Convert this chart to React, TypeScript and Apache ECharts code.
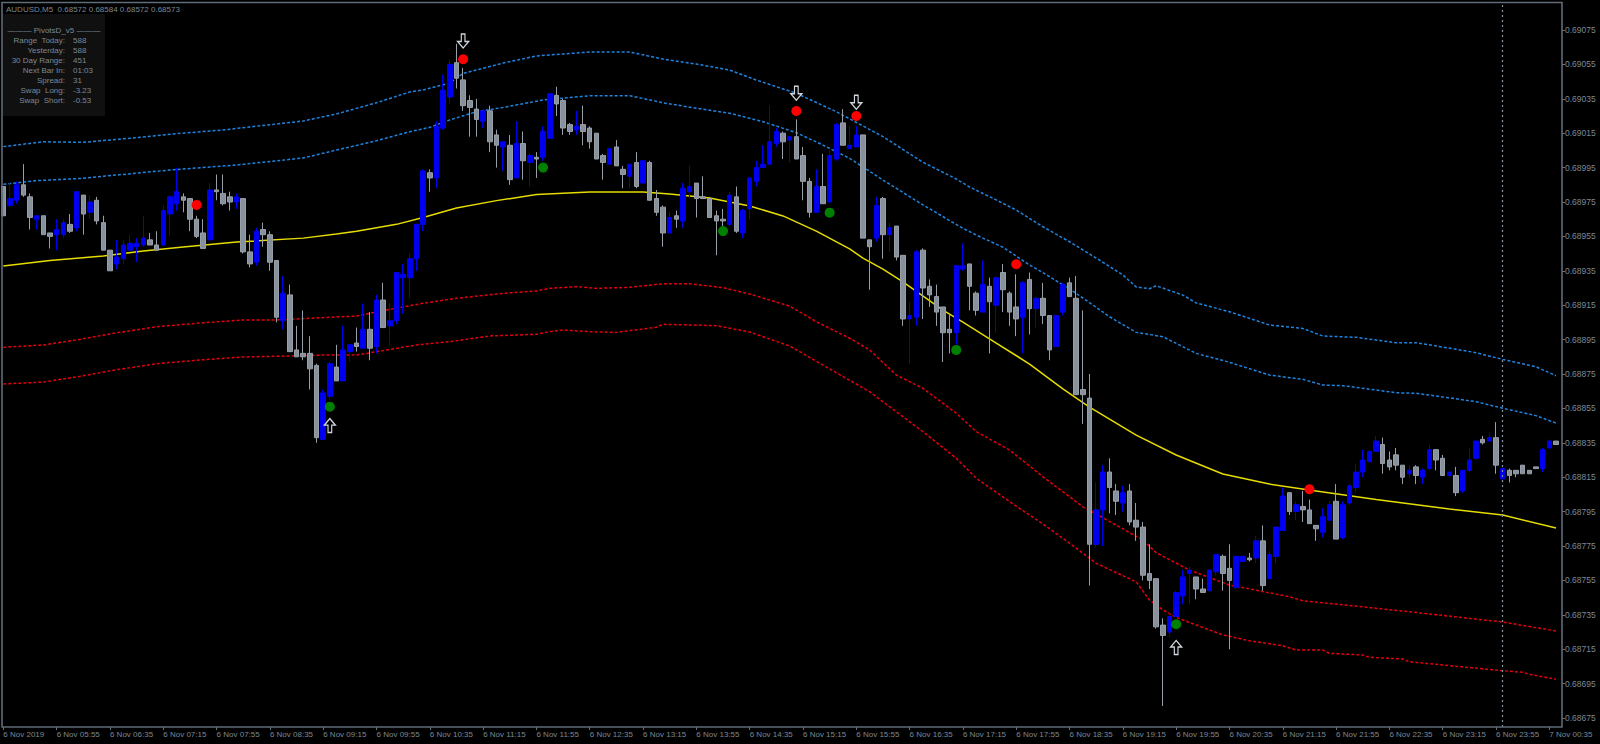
import React, { useEffect, useRef } from "react";
import * as echarts from "echarts";

// Candles as [open, close, low, high]
const barsMorning = [
  [.68984,.68967,.68967,.68984],[.68973,.68977,.68972,.68986],[.68976,.68985,.68974,.68987],[.68985,.68979,.68978,.68997],[.68978,.68966,.68959,.68980],
  [.68965,.68967,.68959,.68967],[.68967,.68956,.68956,.68967],[.68957,.68955,.68948,.68957],[.68956,.68959,.68947,.68965],[.68956,.68963,.68954,.68965],
  [.68962,.68958,.68957,.68968],[.68960,.68981,.68958,.68981],[.68979,.68968,.68956,.68979],[.68969,.68975,.68965,.68979],[.68976,.68964,.68962,.68978],
  [.68963,.68947,.68947,.68967],[.68947,.68935,.68935,.68947],[.68939,.68943,.68936,.68953],[.68942,.68950,.68939,.68953],[.68947,.68951,.68946,.68956],
  [.68949,.68951,.68940,.68954],[.68950,.68954,.68949,.68967],[.68953,.68950,.68950,.68957],[.68950,.68947,.68947,.68958],[.68950,.68970,.68950,.68973],
  [.68968,.68978,.68955,.68979],[.68974,.68981,.68970,.68995],[.68978,.68976,.68969,.68980],[.68977,.68965,.68958,.68977],[.68965,.68955,.68954,.68967],
  [.68957,.68948,.68948,.68965],[.68953,.68982,.68953,.68986],[.68982,.68981,.68976,.68991],[.68980,.68974,.68973,.68991],[.68978,.68975,.68970,.68981],
  [.68975,.68978,.68971,.68980],[.68977,.68946,.68945,.68977],[.68946,.68939,.68937,.68956],[.68940,.68958,.68938,.68960],[.68959,.68956,.68949,.68963],
];
const barsRally = [
  [.68956,.68940,.68935,.68958],[.68941,.68908,.68905,.68941],[.68906,.68922,.68901,.68932],[.68921,.68888,.68888,.68927],[.68889,.68885,.68885,.68903],
  [.68887,.68885,.68883,.68912],[.68887,.68878,.68866,.68897],[.68880,.68838,.68835,.68881],[.68837,.68864,.68837,.68866],[.68862,.68881,.68860,.68882],
  [.68879,.68871,.68871,.68892],[.68871,.68889,.68871,.68903],[.68888,.68892,.68882,.68892],[.68893,.68891,.68888,.68902],[.68890,.68901,.68890,.68916],
  [.68901,.68890,.68883,.68911],[.68891,.68918,.68887,.68921],[.68918,.68902,.68902,.68928],[.68903,.68906,.68892,.68916],[.68906,.68934,.68904,.68934],
  [.68931,.68933,.68910,.68939],[.68931,.68942,.68919,.68945],[.68942,.68962,.68935,.68962],[.68962,.68993,.68958,.68994],[.68992,.68989,.68981,.68994],
  [.68989,.69019,.68983,.69022],[.69018,.69040,.69017,.69049],[.69036,.69055,.69032,.69058],[.69056,.69047,.69041,.69067],[.69046,.69031,.69028,.69053],
];
const barsMidday = [
  [.69034,.69030,.69013,.69037],[.69029,.69023,.69013,.69035],[.69022,.69028,.69018,.69028],[.69028,.69010,.69004,.69031],[.69014,.69008,.68995,.69017],
  [.69007,.69010,.68993,.69010],[.69008,.68988,.68985,.69014],[.68989,.69009,.68989,.69022],[.69009,.68999,.68988,.69016],[.68998,.69002,.68984,.69003],
  [.69001,.69000,.68989,.69004],[.69001,.69016,.68999,.69019],[.69012,.69038,.69012,.69038],[.69037,.69032,.69025,.69042],[.69034,.69018,.69014,.69035],
  [.69020,.69016,.69014,.69021],[.69017,.69019,.69014,.69028],[.69020,.69016,.69008,.69031],[.69018,.69010,.69006,.69019],[.69015,.69000,.69000,.69015],
  [.69002,.68998,.68988,.69003],[.68997,.69006,.68997,.69006],[.69007,.68996,.68996,.69011],[.68994,.68991,.68983,.68996],[.68990,.68997,.68983,.68997],
  [.68998,.68984,.68983,.69004],[.68986,.68999,.68986,.68999],[.68998,.68976,.68976,.68999],[.68977,.68969,.68967,.68982],[.68972,.68957,.68949,.68973],
  [.68957,.68966,.68957,.68969],[.68967,.68965,.68960,.68970],[.68964,.68983,.68960,.68986],[.68981,.68984,.68977,.68996],[.68986,.68977,.68966,.68986],
  [.68978,.68977,.68977,.68990],[.68977,.68966,.68966,.68978],[.68967,.68964,.68944,.68970],[.68965,.68964,.68961,.68971],[.68962,.68979,.68961,.68981],
  [.68978,.68958,.68957,.68984],[.68957,.68970,.68954,.68971],[.68971,.68989,.68965,.68989],[.68987,.68995,.68984,.68999],[.68995,.68997,.68995,.69008],
  [.68997,.69010,.68997,.69031],[.69009,.69016,.69007,.69018],[.69015,.69010,.69000,.69016],[.69011,.69013,.68998,.69013],[.69013,.69000,.69000,.69023],
  [.69002,.68987,.68976,.69007],[.68987,.68969,.68966,.68989],[.68969,.68984,.68969,.68994],[.68984,.68974,.68974,.69003],[.68975,.69002,.68975,.69005],
  [.69000,.69020,.68999,.69021],[.69021,.69008,.69008,.69029],[.69006,.69008,.69006,.69019],[.69007,.69014,.69007,.69019],
];
const barsAfternoon = [
  [.69014,.68954,.68954,.69014],[.68953,.68949,.68924,.68953],[.68954,.68973,.68952,.68978],[.68977,.68956,.68942,.68978],[.68956,.68960,.68946,.68963],
  [.68961,.68943,.68941,.68961],[.68944,.68907,.68903,.68944],[.68907,.68909,.68881,.68917],[.68908,.68946,.68903,.68947],[.68947,.68925,.68907,.68948],
  [.68926,.68921,.68914,.68930],[.68920,.68911,.68903,.68927],[.68914,.68899,.68882,.68914],[.68901,.68899,.68887,.68910],[.68899,.68938,.68892,.68938],
  [.68936,.68938,.68935,.68951],[.68939,.68926,.68912,.68939],[.68922,.68912,.68909,.68923],[.68911,.68927,.68911,.68941],[.68926,.68917,.68887,.68931],
  [.68915,.68931,.68899,.68932],[.68934,.68924,.68911,.68939],[.68922,.68911,.68903,.68923],[.68914,.68907,.68897,.68933],[.68908,.68928,.68887,.68929],
  [.68930,.68913,.68898,.68934],[.68913,.68919,.68902,.68920],[.68919,.68909,.68904,.68928],[.68909,.68889,.68883,.68909],[.68891,.68909,.68891,.68909],
  [.68911,.68927,.68909,.68928],[.68928,.68920,.68920,.68931],[.68919,.68863,.68863,.68932],[.68866,.68863,.68846,.68912],
];
const barsSelloff = [
  [.68861,.68776,.68752,.68875],[.68776,.68796,.68774,.68812],[.68796,.68818,.68775,.68822],[.68818,.68809,.68794,.68826],[.68807,.68801,.68793,.68811],
  [.68800,.68806,.68795,.68810],[.68807,.68789,.68787,.68811],[.68790,.68786,.68778,.68800],[.68786,.68758,.68755,.68789],[.68759,.68755,.68750,.68776],
  [.68756,.68728,.68727,.68756],[.68729,.68723,.68682,.68733],[.68725,.68734,.68722,.68736],[.68734,.68748,.68734,.68749],[.68746,.68757,.68741,.68761],
  [.68759,.68761,.68741,.68763],[.68757,.68750,.68744,.68757],[.68750,.68748,.68748,.68756],[.68749,.68761,.68748,.68761],[.68760,.68770,.68758,.68770],
  [.68769,.68759,.68749,.68770],[.68762,.68755,.68715,.68776],[.68751,.68769,.68750,.68769],[.68766,.68769,.68766,.68769],[.68768,.68767,.68766,.68771],
  [.68768,.68778,.68765,.68781],[.68778,.68752,.68749,.68787],[.68756,.68770,.68756,.68772],[.68769,.68786,.68765,.68786],
];
const barsEvening = [
  [.68784,.68804,.68784,.68809],[.68806,.68795,.68793,.68806],[.68795,.68799,.68790,.68801],[.68798,.68796,.68789,.68807],[.68796,.68788,.68788,.68802],
  [.68787,.68785,.68778,.68787],[.68783,.68792,.68780,.68797],[.68790,.68799,.68790,.68801],[.68801,.68779,.68779,.68811],[.68780,.68799,.68779,.68801],
  [.68800,.68810,.68799,.68811],[.68809,.68818,.68806,.68823],[.68818,.68825,.68815,.68831],[.68824,.68830,.68824,.68830],[.68830,.68836,.68830,.68839],
  [.68834,.68823,.68817,.68838],[.68825,.68821,.68819,.68830],[.68828,.68822,.68819,.68832],[.68822,.68815,.68811,.68822],[.68817,.68819,.68815,.68822],
  [.68821,.68816,.68811,.68822],[.68815,.68819,.68811,.68820],[.68820,.68831,.68819,.68834],[.68831,.68825,.68819,.68831],[.68826,.68816,.68816,.68828],
  [.68816,.68818,.68815,.68818],[.68816,.68806,.68804,.68821],[.68807,.68819,.68806,.68819],[.68819,.68825,.68818,.68832],[.68826,.68836,.68825,.68836],
  [.68837,.68835,.68834,.68839],[.68836,.68838,.68836,.68841],[.68838,.68822,.68817,.68847],[.68814,.68820,.68814,.68820],[.68819,.68816,.68812,.68820],
  [.68819,.68817,.68815,.68819],[.68822,.68817,.68817,.68822],[.68819,.68817,.68817,.68819],[.68821,.68820,.68820,.68821],[.68820,.68831,.68818,.68832],
  [.68832,.68836,.68832,.68837],[.68836,.68834,.68834,.68836],
];

// Bands as [bar index, price]
const midLine = [
  [0,.689378],[7,.68941],[15,.689436],[21,.689465],[27,.689488],[35,.689517],[45,.68954],[50,.689564],[53,.68958],[59,.68962],[63,.68966],[68,.689715],[74,.689758],[80,.689793],[88,.689808],[96,.689808],[100,.689797],[106,.689773],[112,.689727],[117,.689669],[122,.689581],[127,.689477],[129,.689424],[132,.68936],[135,.689285],[141,.689122],[144,.689052],[149,.68893],[154,.688808],[159,.688663],[163,.688558],[170,.688395],[176,.688279],[183,.688169],[190,.68811],[197,.68807],[206,.68802],[217,.687965],[225,.68793],[233,.687855],
];
const upperOuter = [
  [0,.690072],[6,.6901],[12,.690097],[20,.690124],[25,.690144],[33,.690169],[45,.690221],[50,.690262],[56,.690327],[61,.69039],[63,.690401],[67,.690442],[69,.690498],[75,.690558],[80,.690599],[88,.690622],[94,.690622],[99,.690581],[104,.690552],[109,.690517],[113,.690459],[119,.690382],[125,.690275],[132,.69013],[138,.689981],[143,.689884],[145,.689837],[149,.689762],[152,.689703],[156,.689606],[160,.689519],[164,.689424],[168,.689326],[170,.689256],[172,.689246],[173,.689263],[177,.689209],[179,.689163],[184,.689112],[190,.689035],[195,.689015],[198,.688971],[203,.688963],[209,.688932],[212,.688932],[218,.688894],[221,.688874],[225,.688835],[230,.688792],[233,.68874],
];
const upperInner = [
  [0,.689853],[5,.689874],[12,.689888],[17,.689907],[25,.689936],[35,.689965],[45,.690006],[50,.690052],[56,.690106],[61,.690159],[64,.690184],[67,.690227],[71,.690275],[75,.6903],[81,.690343],[88,.690368],[94,.690368],[99,.690327],[104,.690295],[109,.690266],[114,.690217],[119,.690153],[123,.690081],[127,.690004],[132,.689878],[138,.689733],[144,.689597],[146,.689558],[150,.689487],[154,.689384],[157,.689316],[161,.689219],[166,.689083],[170,.688992],[174,.688967],[179,.68887],[184,.688818],[190,.688744],[195,.688719],[198,.688686],[201,.688682],[206,.688657],[209,.688641],[212,.688638],[218,.688606],[221,.688589],[225,.688551],[230,.688508],[233,.688465],
];
const lowerInner = [
  [0,.688905],[6,.688919],[11,.688948],[17,.68899],[23,.689025],[30,.689048],[36,.689064],[41,.689064],[46,.689074],[53,.689087],[58,.689126],[63,.689161],[68,.68919],[75,.689219],[80,.689233],[82,.689248],[86,.689258],[89,.689248],[94,.689254],[99,.689275],[103,.689275],[108,.689252],[112,.689215],[118,.689145],[122,.689054],[127,.688958],[130,.68889],[134,.688744],[138,.688667],[143,.688522],[146,.688415],[151,.688308],[156,.688153],[162,.687978],[164,.687936],[171,.687785],[173,.687711],[178,.68761],[184,.687523],[193,.687455],[195,.687432],[210,.687372],[225,.687308],[233,.687256],
];
const lowerOuter = [
  [0,.688692],[6,.688703],[11,.688733],[17,.688775],[23,.68881],[30,.688833],[36,.688849],[43,.688855],[48,.68886],[53,.68886],[57,.688886],[62,.688919],[67,.688938],[73,.688971],[80,.688981],[82,.688996],[84,.689006],[88,.688996],[92,.688992],[98,.689022],[99,.689039],[107,.689031],[112,.688994],[118,.688913],[123,.688802],[130,.688647],[133,.68856],[138,.688415],[143,.68826],[146,.688144],[151,.688008],[156,.687878],[160,.687766],[164,.687649],[170,.687542],[172,.687436],[174,.687378],[176,.687335],[183,.687233],[187,.687199],[192,.68717],[194,.687145],[198,.687145],[199,.687126],[204,.687116],[205,.687103],[210,.687093],[211,.687077],[216,.687058],[225,.687025],[228,.687016],[229,.687004],[233,.686975],
];

// Signal markers as [bar index, price]
const redDots = [[29,.689733],[69,.69058],[119,.690279],[128,.69025],[152,.689388],[196,.68808]];
const greenDots = [[49,.68856],[81,.68995],[108,.689581],[124,.689688],[143,.68889],[176,.687295]];
const downArrows = [[69,.690686],[119,.690382],[128,.69033]];
const upArrows = [[49,.68845],[176,.68716]];

// Axis contents
const priceTicks = [
  .68675,.68695,.68715,.68735,.68755,.68775,.68795,.68815,.68835,.68855,.68875,
  .68895,.68915,.68935,.68955,.68975,.68995,.69015,.69035,.69055,.69075,
];
const timeLabels = [
  "6 Nov 2019","6 Nov 05:55","6 Nov 06:35","6 Nov 07:15","6 Nov 07:55","6 Nov 08:35","6 Nov 09:15","6 Nov 09:55",
  "6 Nov 10:35","6 Nov 11:15","6 Nov 11:55","6 Nov 12:35","6 Nov 13:15","6 Nov 13:55","6 Nov 14:35","6 Nov 15:15",
  "6 Nov 15:55","6 Nov 16:35","6 Nov 17:15","6 Nov 17:55","6 Nov 18:35","6 Nov 19:15","6 Nov 19:55","6 Nov 20:35",
  "6 Nov 21:15","6 Nov 21:55","6 Nov 22:35","6 Nov 23:15","6 Nov 23:55","7 Nov 00:35",
];
const separatorBar = 225;
const headerText = "AUDUSD,M5  0.68572 0.68584 0.68572 0.68573";
const panelTitle = "——— PivotsD_v5 ———";
const panelLabels = ["Range  Today:", "Yesterday:", "30 Day Range:", "Next Bar In:", "Spread:", "Swap  Long:", "Swap  Short:"];
const panelValues = ["588", "588", "451", "01:03", "31", "-3.23", "-0.53"];

const FONT = '"Liberation Sans", Arial, sans-serif';
const TEXT = "#7c8894";
const ARROW = "path://M4 15 L4 7 L0 7 L6 0 L12 7 L8 7 L8 15 Z";

export default function App() {
  const ref = useRef<HTMLDivElement>(null);
  useEffect(() => {
    if (!ref.current) return;
    const chart = echarts.init(ref.current, undefined, { renderer: "svg" });
    const bars = [...barsMorning, ...barsRally, ...barsMidday, ...barsAfternoon, ...barsSelloff, ...barsEvening];
    const categories = bars.map((_, i) => String(i));
    const band = (name: string, data: number[][], color: string) => ({
      name, type: "line", data, z: 1, showSymbol: false, silent: true, smooth: false,
      lineStyle: { color, width: 1.5, type: [3, 2] },
    });
    const markers = (name: string, data: number[][], color: string) => ({
      name, type: "scatter", data, z: 4, symbol: "circle", symbolSize: 10, silent: true,
      itemStyle: { color, opacity: 1 },
    });
    const arrows = (name: string, data: number[][], rotate: number) => ({
      name, type: "scatter", data, z: 4, symbol: ARROW, symbolSize: [11, 14], symbolRotate: rotate, silent: true,
      itemStyle: { color: "#000000", borderColor: "#d0d6dc", borderWidth: 1.3, opacity: 1 },
    });
    const panelRows: any[] = [];
    panelLabels.forEach((label, i) => {
      const y = 40 + i * 10;
      panelRows.push({
        type: "text", x: 65, y, silent: true,
        style: { text: label, fill: TEXT, font: `8px ${FONT}`, textAlign: "right", textVerticalAlign: "middle" },
      });
      panelRows.push({
        type: "text", x: 73, y, silent: true,
        style: { text: panelValues[i], fill: TEXT, font: `8px ${FONT}`, textAlign: "left", textVerticalAlign: "middle" },
      });
    });
    chart.setOption({
      animation: false,
      backgroundColor: "#000000",
      tooltip: { show: false },
      legend: { show: false },
      grid: { left: -0.67, top: 3, width: 1560, height: 724 },
      xAxis: {
        type: "category", data: categories, boundaryGap: true,
        axisLine: { show: false },
        axisTick: { show: true, interval: 7, alignWithLabel: true, length: 3, lineStyle: { color: "#66727e", width: 1 } },
        axisLabel: {
          interval: 7, align: "left", margin: 3, color: TEXT, fontSize: 8, fontFamily: FONT, hideOverlap: false,
          formatter: (_: string, idx: number) => timeLabels[idx / 8] ?? "",
        },
        splitLine: { show: false },
      },
      yAxis: {
        type: "value", position: "right", offset: 2.67, scale: true, min: 0.6866977, max: 0.690907,
        axisLine: { show: false },
        axisTick: { show: true, length: 3, customValues: priceTicks, lineStyle: { color: "#66727e", width: 1 } },
        axisLabel: {
          color: TEXT, fontSize: 8.5, fontFamily: FONT, margin: 3, customValues: priceTicks,
          formatter: (v: number) => v.toFixed(5),
        },
        splitLine: { show: false },
      },
      series: [
        band("Upper outer", upperOuter, "#1e84e0"),
        band("Upper inner", upperInner, "#1e84e0"),
        band("Lower inner", lowerInner, "#e2000e"),
        band("Lower outer", lowerOuter, "#e2000e"),
        {
          name: "Mid", type: "line", data: midLine, z: 1, showSymbol: false, silent: true,
          lineStyle: { color: "#e6dc00", width: 1.5 },
        },
        {
          name: "AUDUSD", type: "candlestick", data: bars, z: 2, barWidth: 5, silent: true,
          itemStyle: { color: "#0000f0", color0: "#87919c", borderColor: "#0000f0", borderColor0: "#989fa7", borderWidth: 1 },
          markLine: {
            silent: true, symbol: "none", label: { show: false },
            lineStyle: { color: "#8894a0", width: 1.2, type: [2, 3] },
            data: [{ xAxis: separatorBar }],
          },
        },
        markers("Sell", redDots, "#ff0000"),
        markers("Buy", greenDots, "#008000"),
        arrows("Down", downArrows, 180),
        arrows("Up", upArrows, 0),
      ],
      graphic: [
        {
          type: "rect", x: 2, y: 2.5, z: 10, silent: true,
          shape: { width: 1560, height: 724.5 },
          style: { fill: "none", stroke: "#5f6b77", lineWidth: 1.6 },
        },
        {
          type: "rect", x: 3, y: 14, z: 5, silent: true,
          shape: { width: 102, height: 102 },
          style: { fill: "#101010" },
        },
        {
          type: "text", x: 6, y: 9, z: 11, silent: true,
          style: { text: headerText, fill: TEXT, font: `8px ${FONT}`, textVerticalAlign: "middle" },
        },
        {
          type: "text", x: 54, y: 30, z: 11, silent: true,
          style: { text: panelTitle, fill: TEXT, font: `8px ${FONT}`, textAlign: "center", textVerticalAlign: "middle" },
        },
        ...panelRows.map((r) => ({ ...r, z: 11 })),
      ],
    });
    return () => chart.dispose();
  }, []);
  return (
    <div style={{ position: "fixed", left: 0, top: 0, width: 1600, height: 744, background: "#000" }}>
      <div ref={ref} style={{ width: 1600, height: 744 }} />
    </div>
  );
}
